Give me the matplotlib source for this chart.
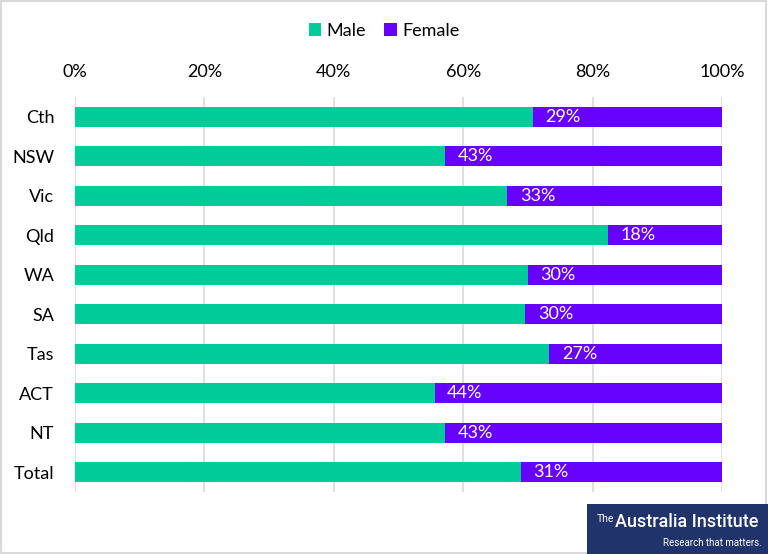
import matplotlib
matplotlib.use("Agg")
import matplotlib.pyplot as plt
from matplotlib.patches import Rectangle

plt.rcParams['font.family'] = ['Lato', 'DejaVu Sans']

categories = ["Cth", "NSW", "Vic", "Qld", "WA", "SA", "Tas", "ACT", "NT", "Total"]
female = [29.2, 42.8, 33.2, 17.6, 30.0, 30.4, 26.7, 44.4, 42.8, 31.1]
male = [100 - f for f in female]
female_labels = ["29%", "43%", "33%", "18%", "30%", "30%", "27%", "44%", "43%", "31%"]
xticks = [0, 20, 40, 60, 80, 100]
xtick_labels = ["0%", "20%", "40%", "60%", "80%", "100%"]

male_color = "#00CC99"
female_color = "#6600FF"

fig = plt.figure(figsize=(7.68, 5.54), dpi=100)
ax = fig.add_axes([75/768, 1 - 492/554, (722-75)/768, (492-97)/554])

y = list(range(len(categories)))
ax.barh(y, male, height=0.5, color=male_color, label="Male")
ax.barh(y, female, left=male, height=0.5, color=female_color, label="Female")

for yi, m, lab in zip(y, male, female_labels):
    ax.annotate(lab, xy=(m, yi), xytext=(9, 0), textcoords="offset points",
                ha="left", va="center", color="white", fontsize=13)

ax.set_xlim(0, 100)
ax.set_ylim(len(categories) - 0.5, -0.5)
ax.set_yticks(y)
ax.set_yticklabels(categories, fontsize=13)
ax.set_xticks(xticks)
ax.set_xticklabels(xtick_labels, fontsize=13)
ax.xaxis.tick_top()
ax.tick_params(axis="both", length=0, colors="black")
ax.tick_params(axis="x", pad=12)
ax.tick_params(axis="y", pad=15)
ax.grid(axis="x", color="#D9D9D9", linewidth=1.2)
ax.set_axisbelow(True)
for s in ax.spines.values():
    s.set_visible(False)

leg = fig.legend(loc="center", bbox_to_anchor=(0.5, 1 - 31/554), ncol=2, frameon=False,
                 fontsize=13, handlelength=0.7, handleheight=0.7, handletextpad=0.3,
                 columnspacing=1.0)

# figure border
fig.patches.append(Rectangle((0.001, 0.001), 0.997, 0.997, transform=fig.transFigure,
                             fill=False, edgecolor="#D9D9D9", linewidth=1.5))

# logo box
fig.patches.append(Rectangle((587/768, 0), (768-587)/768, (554-504)/554,
                             transform=fig.transFigure, facecolor="#20336B",
                             edgecolor="none", zorder=5))
fig.text(597/768, 1 - 519/554, "The", color="white", fontsize=7.5, ha="left", va="center",
         zorder=6, family=["Roboto", "DejaVu Sans"])
fig.text(615/768, 1 - 522/554, "Australia Institute", color="white", fontsize=13,
         ha="left", va="center", zorder=6, family=["Roboto", "DejaVu Sans"],
         fontweight="medium")
fig.text(762/768, 1 - 543/554, "Research that matters.", color="white", fontsize=7,
         ha="right", va="center", zorder=6, family=["Roboto", "DejaVu Sans"])

fig.savefig("out.png", dpi=100)
